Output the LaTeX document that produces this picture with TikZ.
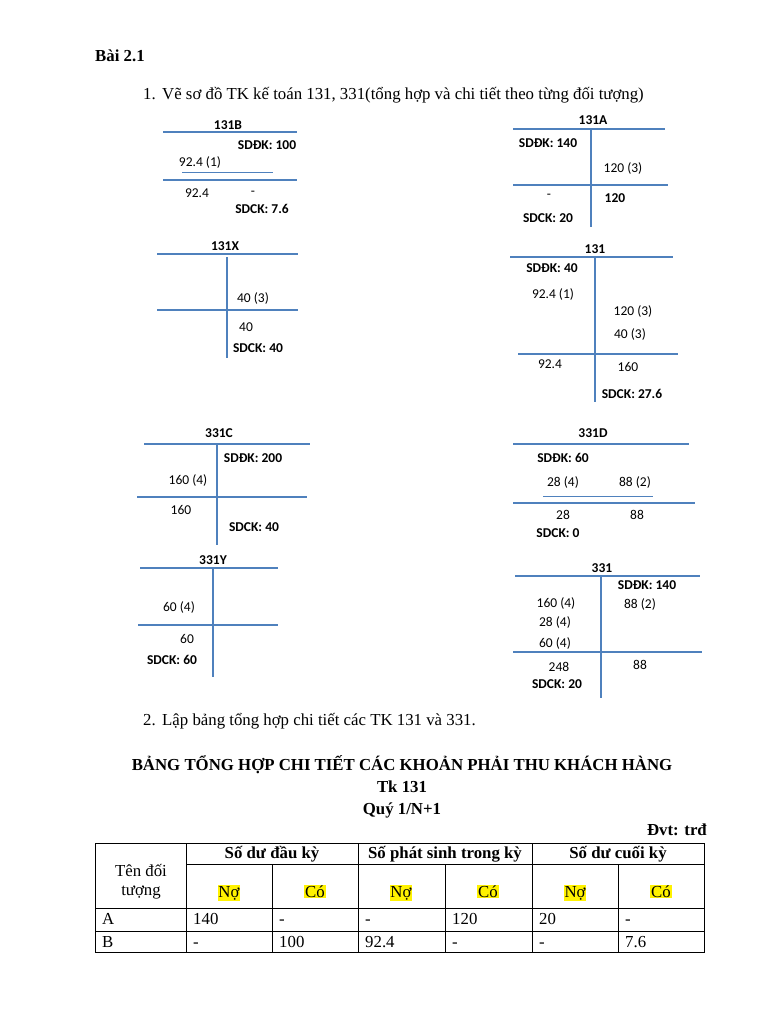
\documentclass[tikz,border=0pt]{standalone}
\usepackage{fontspec}
\setmainfont{Liberation Serif}
\newfontfamily\calibrifont{Carlito}
\definecolor{tblue}{RGB}{79,129,189}

\tikzset{
  tline/.style={tblue, line width=1.3pt},
  num/.style={inner sep=0pt, font=\calibrifont\fontsize{13.5}{15}\selectfont},
  bnum/.style={inner sep=0pt, font=\calibrifont\bfseries\fontsize{13.5}{15}\selectfont},
  txt/.style={inner sep=0pt, font=\fontsize{16.8}{19}\selectfont},
  btxt/.style={inner sep=0pt, font=\bfseries\fontsize{16.8}{19}\selectfont},
  hl/.style={txt, fill=yellow, inner sep=0.8pt},
}

\begin{document}
\begin{tikzpicture}[x=1pt, y=-1pt]

\useasboundingbox[fill=white] (0,0) rectangle (768,1024);

% Heading
\node[btxt, anchor=base west] (bai) at (95,62) {Bài 2.1};
\node[txt, anchor=base west] (q1no) at (143,100) {1.};
\node[txt, anchor=base west] (q1) at (162,100) {Vẽ sơ đồ TK kế toán 131, 331(tổng hợp và chi tiết theo từng đối tượng)};

% Account 131B
\node[bnum] (bT) at (228,125) {131B};
\draw[tline] (163,132) -- (297,132);
\node[bnum] (bDK) at (267,145) {SDĐK: 100};
\node[num] (bN1) at (200,163) {92.4 (1)};
\draw[tline, line width=1pt] (182,173) -- (273,173);
\draw[tline] (163,180) -- (297,180);
\node[num] (bN) at (197,193) {92.4};
\node[num] (bC) at (253,193) {-};
\node[bnum] (bCK) at (262,209) {SDCK: 7.6};

% Account 131A
\node[bnum] (aT) at (593,120) {131A};
\draw[tline] (513,129) -- (665,129);
\draw[tline] (591,129) -- (591,227);
\node[bnum] (aDK) at (548,143) {SDĐK: 140};
\node[num] (aC1) at (623,168) {120 (3)};
\draw[tline] (513,185) -- (668,185);
\node[num] (aN) at (549,196) {-};
\node[bnum] (aC) at (615,198) {120};
\node[bnum] (aCK) at (548,218) {SDCK: 20};

% Account 131X
\node[bnum] (xT) at (225,246) {131X};
\draw[tline] (157,254) -- (298,254);
\draw[tline] (227,257) -- (227,358);
\node[num] (xC1) at (253,298) {40 (3)};
\draw[tline] (157,310) -- (298,310);
\node[num] (xC) at (246,327) {40};
\node[bnum] (xCK) at (258,348) {SDCK: 40};

% Account 131
\node[bnum] (tT) at (595,249) {131};
\draw[tline] (510,257) -- (673,257);
\draw[tline] (595,257) -- (595,402);
\node[bnum] (tDK) at (552,268) {SDĐK: 40};
\node[num] (tN1) at (553,294) {92.4 (1)};
\node[num] (tC1) at (633,311) {120 (3)};
\node[num] (tC2) at (630,334) {40 (3)};
\draw[tline] (518,354) -- (678,354);
\node[num] (tN) at (550,364) {92.4};
\node[num] (tC) at (628,367) {160};
\node[bnum] (tCK) at (632,394) {SDCK: 27.6};

% Account 331C
\node[bnum] (cT) at (219,433) {331C};
\draw[tline] (144,444) -- (310,444);
\draw[tline] (217,444) -- (217,545);
\node[bnum] (cDK) at (253,458) {SDĐK: 200};
\node[num] (cN1) at (188,480) {160 (4)};
\draw[tline] (137,497) -- (307,497);
\node[num] (cN) at (181,510) {160};
\node[bnum] (cCK) at (254,527) {SDCK: 40};

% Account 331D
\node[bnum] (dT) at (593,433) {331D};
\draw[tline] (513,444) -- (689,444);
\node[bnum] (dDK) at (563,458) {SDĐK: 60};
\node[num] (dN1) at (563,482) {28 (4)};
\node[num] (dC1) at (635,482) {88 (2)};
\draw[tline, line width=1pt] (543,496) -- (653,496);
\draw[tline] (513,503) -- (695,503);
\node[num] (dN) at (563,515) {28};
\node[num] (dC) at (637,515) {88};
\node[bnum] (dCK) at (558,533) {SDCK: 0};

% Account 331Y
\node[bnum] (yT) at (213,560) {331Y};
\draw[tline] (140,568) -- (278,568);
\draw[tline] (213,568) -- (213,677);
\node[num] (yN1) at (179,607) {60 (4)};
\draw[tline] (138,625) -- (278,625);
\node[num] (yN) at (187,639) {60};
\node[bnum] (yCK) at (172,660) {SDCK: 60};

% Account 331
\node[bnum] (sT) at (602,568) {331};
\draw[tline] (515,576) -- (700,576);
\draw[tline] (601,576) -- (601,698);
\node[bnum] (sDK) at (647,585) {SDĐK: 140};
\node[num] (sN1) at (556,603) {160 (4)};
\node[num] (sC1) at (640,604) {88 (2)};
\node[num] (sN2) at (555,622) {28 (4)};
\node[num] (sN3) at (555,643) {60 (4)};
\draw[tline] (513,652) -- (702,652);
\node[num] (sN) at (559,667) {248};
\node[num] (sC) at (640,665) {88};
\node[bnum] (sCK) at (557,684) {SDCK: 20};

% Part 2
\node[txt, anchor=base west] (q2no) at (143,725) {2.};
\node[txt, anchor=base west] (q2) at (162,725) {Lập bảng tổng hợp chi tiết các TK 131 và 331.};
\node[btxt, anchor=base] (title) at (402,770) {BẢNG TỔNG HỢP CHI TIẾT CÁC KHOẢN PHẢI THU KHÁCH HÀNG};
\node[btxt, anchor=base] (tk) at (402,792) {Tk 131};
\node[btxt, anchor=base] (quy) at (402,814) {Quý 1/N+1};
\node[btxt, anchor=base east] (dvt) at (707,835) {Đvt: trđ};

% Table grid
\draw[line width=0.8pt] (95,843) rectangle (704,952);
\draw[line width=0.8pt] (186,864) -- (704,864);
\draw[line width=0.8pt] (95,908) -- (704,908);
\draw[line width=0.8pt] (95,931) -- (704,931);
\foreach \x in {186,358,532}
  \draw[line width=0.8pt] (\x,843) -- (\x,952);
\foreach \x in {272,445,618}
  \draw[line width=0.8pt] (\x,864) -- (\x,952);

% Table header
\node[txt, align=center] (ten) at (141,882) {Tên đối\\tượng};
\node[btxt, anchor=base] (g1) at (272,858) {Số dư đầu kỳ};
\node[btxt, anchor=base] (g2) at (445,858) {Số phát sinh trong kỳ};
\node[btxt, anchor=base] (g3) at (618,858) {Số dư cuối kỳ};
\foreach \x/\t [count=\i] in {229/Nợ,315/Có,401/Nợ,488/Có,575/Nợ,661/Có}
  \node[hl, anchor=base] (h\i) at (\x,897) {\t};

% Table rows
\foreach \x/\t [count=\i] in {102/A,193/140,279/-,365/-,452/120,539/20,625/-}
  \node[txt, anchor=base west] (ra\i) at (\x,924) {\t};
\foreach \x/\t [count=\i] in {102/B,193/-,279/100,365/92.4,452/-,539/-,625/7.6}
  \node[txt, anchor=base west] (rb\i) at (\x,947) {\t};

\end{tikzpicture}
\end{document}
